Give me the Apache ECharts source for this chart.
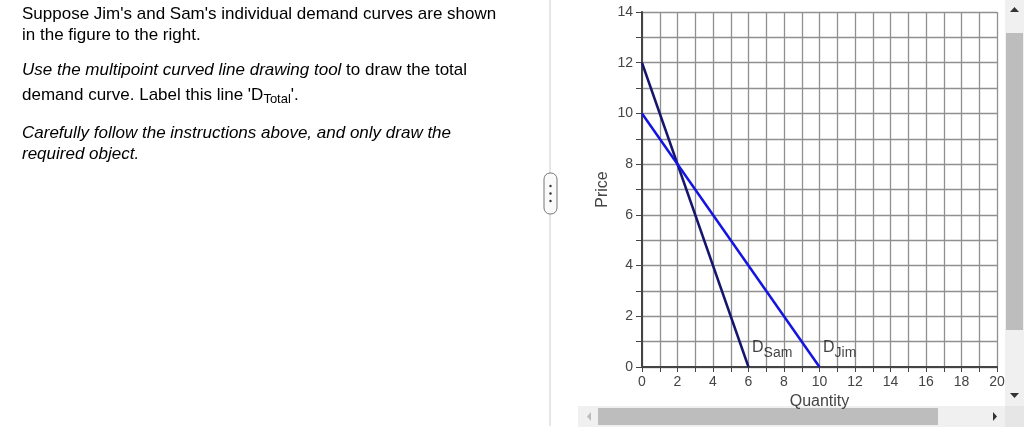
<!DOCTYPE html>
<html>
<head>
<meta charset="utf-8">
<script src="https://cdn.jsdelivr.net/npm/echarts@6/dist/echarts.min.js"></script>
<style>
html,body{margin:0;padding:0;background:#fff;}
#c{width:1024px;height:432px;}
</style>
</head>
<body>
<div id="c"></div>
<script>
// Data
const samQ = [0, 6];
const samP = [12, 0];
const jimQ = [0, 10];
const jimP = [10, 0];
const curveLabels = [
  { name: 'Sam', q: 6.2, p: 0.75 },
  { name: 'Jim', q: 10.2, p: 0.75 }
];
const xTicks = [0, 2, 4, 6, 8, 10, 12, 14, 16, 18, 20];
const yTicks = [0, 2, 4, 6, 8, 10, 12, 14];

const chart = echarts.init(document.getElementById('c'), null, { renderer: 'canvas' });
const FONT = '"Liberation Sans", Arial, sans-serif';

const textRich = {
  n: { fontSize: 17, fontFamily: FONT, color: '#111', lineHeight: 22 },
  i: { fontSize: 17, fontFamily: FONT, color: '#111', fontStyle: 'italic', lineHeight: 22 },
  s: { fontSize: 13, fontFamily: FONT, color: '#111', lineHeight: 22, padding: [9, 0, 0, 0] }
};

function txt(x, y, s) {
  return { type: 'text', left: x, top: y, style: { text: s, rich: textRich, fontFamily: FONT } };
}

chart.setOption({
  animation: false,
  grid: { left: 642, right: 27, top: 12, bottom: 65, containLabel: false },
  xAxis: {
    type: 'value', min: 0, max: 20, interval: 1,
    name: 'Quantity', nameLocation: 'middle', nameGap: 26,
    nameTextStyle: { fontSize: 16, color: '#444', fontFamily: FONT },
    axisLine: { show: true, onZero: false, lineStyle: { color: '#444', width: 2 } },
    axisTick: { show: true, length: 5, lineStyle: { color: '#444' } },
    axisLabel: {
      fontSize: 14, color: '#444', fontFamily: FONT, margin: 8, showMaxLabel: true,
      formatter: v => (xTicks.indexOf(v) >= 0 ? String(v) : '')
    },
    splitLine: { show: true, lineStyle: { color: '#909090', width: 1.3 } }
  },
  yAxis: {
    type: 'value', min: 0, max: 14, interval: 1,
    name: 'Price', nameLocation: 'middle', nameGap: 31, nameRotate: 90,
    nameTextStyle: { fontSize: 16, color: '#444', fontFamily: FONT },
    axisLine: { show: true, onZero: false, lineStyle: { color: '#444', width: 2 } },
    axisTick: { show: true, length: 6, lineStyle: { color: '#444' } },
    axisLabel: {
      fontSize: 14, color: '#444', fontFamily: FONT, margin: 9, showMaxLabel: true,
      formatter: v => (yTicks.indexOf(v) >= 0 ? String(v) : '')
    },
    splitLine: { show: true, lineStyle: { color: '#909090', width: 1.3 } }
  },
  series: [
    {
      type: 'line', name: 'Sam', symbol: 'none',
      data: samQ.map((q, i) => [q, samP[i]]),
      lineStyle: { color: '#15156e', width: 2.5 }
    },
    {
      type: 'line', name: 'Jim', symbol: 'none',
      data: jimQ.map((q, i) => [q, jimP[i]]),
      lineStyle: { color: '#1414e0', width: 2.5 }
    },
    {
      type: 'scatter', symbolSize: 0,
      data: curveLabels.map(l => ({ value: [l.q, l.p], name: l.name })),
      label: {
        show: true, position: 'right', distance: 0,
        formatter: p => '{d|D}{s|' + p.name + '}',
        rich: {
          d: { fontSize: 16, color: '#111', fontFamily: FONT },
          s: { fontSize: 14, color: '#111', fontFamily: FONT, padding: [11, 0, 0, 0] }
        }
      }
    }
  ],
  graphic: [
    txt(22, 6, '{n|Suppose Jim\'s and Sam\'s individual demand curves are shown}'),
    txt(22, 27, '{n|in the figure to the right.}'),
    txt(22, 62, '{i|Use the multipoint curved line drawing tool}{n| to draw the total}'),
    txt(22, 84, '{n|demand curve. Label this line \'D}{s|Total}{n|\'.}'),
    txt(22, 125, '{i|Carefully follow the instructions above, and only draw the}'),
    txt(22, 146, '{i|required object.}'),
    // divider
    { type: 'line', shape: { x1: 550, y1: 0, x2: 550, y2: 426 }, style: { stroke: '#ccc', lineWidth: 1 } },
    { type: 'rect', shape: { x: 544, y: 173, width: 13, height: 41, r: 6 }, style: { fill: '#fafafa', stroke: '#777', lineWidth: 1 } },
    { type: 'circle', shape: { cx: 550.5, cy: 186, r: 1.2 }, style: { fill: '#333' } },
    { type: 'circle', shape: { cx: 550.5, cy: 193.5, r: 1.2 }, style: { fill: '#333' } },
    { type: 'circle', shape: { cx: 550.5, cy: 201, r: 1.2 }, style: { fill: '#333' } },
    // vertical scrollbar
    { type: 'rect', shape: { x: 1005, y: 0, width: 19, height: 406 }, style: { fill: '#f0f0f0' } },
    { type: 'rect', shape: { x: 1006, y: 33, width: 17, height: 297 }, style: { fill: '#bdbdbd' } },
    { type: 'polygon', shape: { points: [[1010, 12], [1019, 12], [1014.5, 7]] }, style: { fill: '#333' } },
    { type: 'polygon', shape: { points: [[1010, 393], [1019, 393], [1014.5, 398]] }, style: { fill: '#333' } },
    // horizontal scrollbar
    { type: 'rect', shape: { x: 578, y: 406, width: 427, height: 21 }, style: { fill: '#f0f0f0' } },
    { type: 'rect', shape: { x: 1005, y: 406, width: 19, height: 21 }, style: { fill: '#e6e6e6' } },
    { type: 'rect', shape: { x: 598, y: 408, width: 340, height: 17 }, style: { fill: '#bdbdbd' } },
    { type: 'polygon', shape: { points: [[591, 412], [591, 421], [587, 416.5]] }, style: { fill: '#bbb' } },
    { type: 'polygon', shape: { points: [[993, 412], [993, 421], [997, 416.5]] }, style: { fill: '#333' } }
  ]
});
</script>
</body>
</html>
